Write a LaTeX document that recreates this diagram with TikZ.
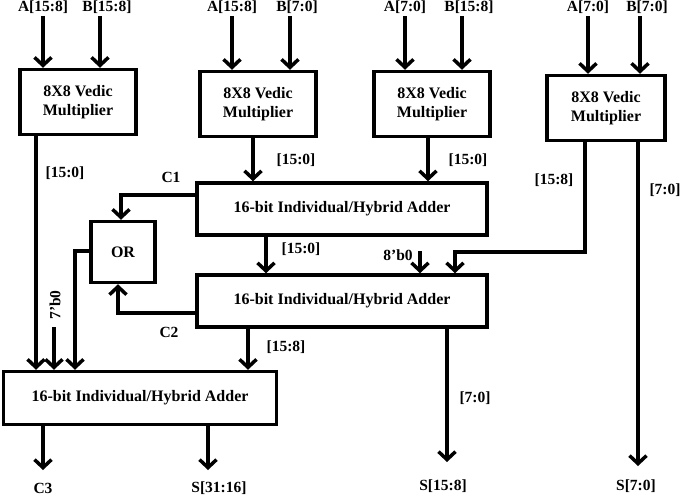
\documentclass[tikz,border=0pt]{standalone}
\usepackage{fontspec}
\setmainfont{Liberation Serif}
\usetikzlibrary{arrows.meta}
\begin{document}
\begin{tikzpicture}[x=1pt,y=-1pt,
  line width=3.5pt,
  ar/.style={-{Straight Barb[length=8pt,width=17pt,line width=3.5pt]}},
  box/.style={draw,line width=3.5pt,font=\bfseries\fontsize{16}{19}\selectfont,align=center,inner sep=0pt},
  lab/.style={font=\bfseries\fontsize{15.5}{18}\selectfont,inner sep=1pt}]
\useasboundingbox (0,0) rectangle (685,496);
% multipliers
\node[box,minimum width=116pt,minimum height=65pt] (m1) at (78,102) {8X8 Vedic\\Multiplier};
\node[box,minimum width=116pt,minimum height=65pt] (m2) at (258,104) {8X8 Vedic\\Multiplier};
\node[box,minimum width=116pt,minimum height=65pt] (m3) at (432,104) {8X8 Vedic\\Multiplier};
\node[box,minimum width=118pt,minimum height=65pt] (m4) at (606,108) {8X8 Vedic\\Multiplier};
% adders
\node[box,minimum width=290pt,minimum height=52pt] (a1) at (342,209) {16-bit Individual/Hybrid Adder};
\node[box,minimum width=290pt,minimum height=52pt] (a2) at (342,301) {16-bit Individual/Hybrid Adder};
\node[box,minimum width=273pt,minimum height=53pt] (a3) at (140,398) {16-bit Individual/Hybrid Adder};
\node[box,minimum width=64pt,minimum height=61pt] (or) at (123,252) {OR};
% inputs
\foreach \n/\xa/\xb/\la/\lb in {m1/43/100/A[15:8]/B[15:8], m2/232/290/A[15:8]/B[7:0], m3/405/462/A[7:0]/B[15:8], m4/588/640/A[7:0]/B[7:0]}{
  \coordinate (ta) at (\xa,16); \coordinate (tb) at (\xb,16);
  \draw[ar] (ta) -- (ta |- \n.north);
  \draw[ar] (tb) -- (tb |- \n.north);
  \node[lab] at (\xa,7) {\la};
  \node[lab] at (\xb+7,7) {\lb};
}
% mult outputs
\draw[ar] (m1.south -| 36,0) -- (36,0 |- a3.north);
\node[lab] at (65,173) {[15:0]};
\draw[ar] (m2.south -| 253,0) -- (253,0 |- a1.north);
\node[lab] at (296,160) {[15:0]};
\draw[ar] (m3.south -| 428,0) -- (428,0 |- a1.north);
\node[lab] at (468,160) {[15:0]};
\coordinate (k4) at (585,252);
\draw[ar] (m4.south -| k4) -- (k4) -- (455,252) -- (455,0 |- a2.north);
\node[lab] at (554,180) {[15:8]};
\coordinate (o4) at (638,466);
\draw[ar] (m4.south -| o4) -- (o4);
\node[lab] at (665,190) {[7:0]};
% adder1 to adder2
\draw[ar] (a1.south -| 266,0) -- (266,0 |- a2.north);
\node[lab] at (301,249) {[15:0]};
\coordinate (z8) at (420,251);
\draw[ar] (z8) -- (z8 |- a2.north);
\node[lab] at (398,255) {8'b0};
% carries
\draw[ar] (a1.west |- 0,195) -- (121,195) -- (121,0 |- or.north);
\node[lab] at (171,177) {C1};
\draw[ar] (a2.west |- 0,313) -- (118,313) -- (118,0 |- or.south);
\node[lab] at (169,332) {C2};
\draw[ar] (or.west |- 0,251) -- (75,251) -- (75,0 |- a3.north);
\coordinate (z7) at (54,327);
\draw[ar] (z7) -- (z7 |- a3.north);
\node[lab,rotate=90] at (55,305) {7'b0};
% adder2 to adder3
\draw[ar] (a2.south -| 248,0) -- (248,0 |- a3.north);
\node[lab] at (286,347) {[15:8]};
% outputs
\coordinate (o1) at (43,470);
\draw[ar] (a3.south -| o1) -- (o1);
\node[lab] at (43,488) {C3};
\coordinate (o2) at (208,470);
\draw[ar] (a3.south -| o2) -- (o2);
\node[lab] at (219,488) {S[31:16]};
\coordinate (o3) at (447,462);
\draw[ar] (a2.south -| o3) -- (o3);
\node[lab] at (475,398) {[7:0]};
\node[lab] at (443,486) {S[15:8]};
\node[lab] at (636,486) {S[7:0]};
\end{tikzpicture}
\end{document}
